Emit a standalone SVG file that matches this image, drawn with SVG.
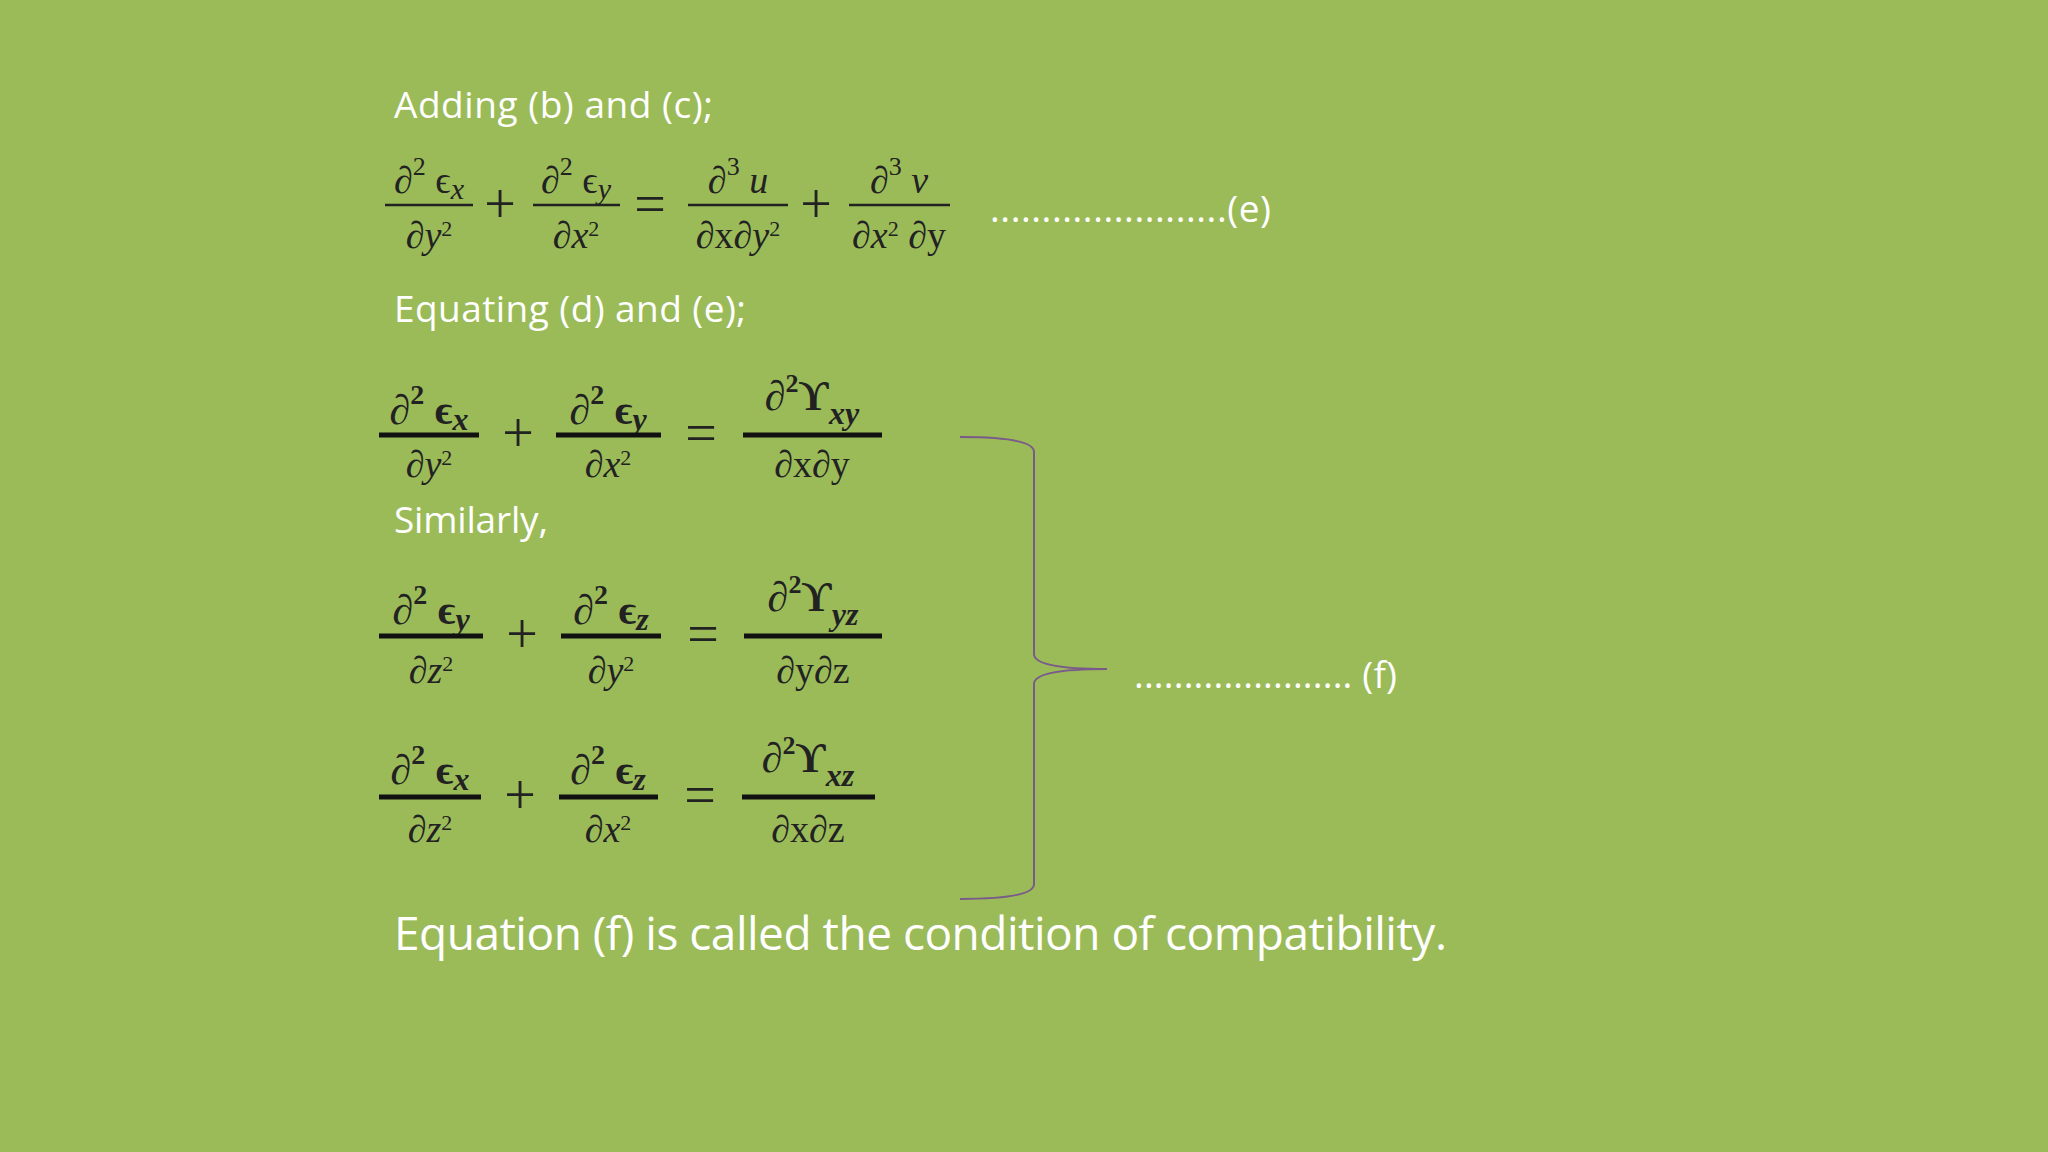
<svg xmlns="http://www.w3.org/2000/svg" width="2048" height="1152" viewBox="0 0 2048 1152">
<style>
.t{font-family:"Open Sans","Liberation Sans",sans-serif;fill:#fff;font-size:37px}
.m{font-family:"Liberation Serif","DejaVu Serif",serif;fill:#222;font-size:38px;text-anchor:middle}
.mb{font-family:"Liberation Serif","DejaVu Serif",serif;fill:#222;font-size:42px;text-anchor:middle;font-weight:bold}
.op{font-family:"Liberation Serif",serif;fill:#222;font-size:56px;text-anchor:middle}
.i{font-style:italic}
.fl{stroke:#222;stroke-width:2.5}
.fb{stroke:#111;stroke-width:5}
</style>
<rect width="2048" height="1152" fill="#9bbb59"/>
<text class="t" x="394" y="118" textLength="319">Adding (b) and (c);</text>
<g id="eq-e">
<text class="m" x="429" y="193">∂<tspan dy="-18" font-size="26">2</tspan><tspan dy="18"> ϵ</tspan><tspan class="i" dy="6" font-size="30">x</tspan></text>
<line class="fl" x1="385" y1="205" x2="473" y2="205"/>
<text class="m" x="429" y="248">∂<tspan class="i">y</tspan><tspan dy="-12" font-size="22">2</tspan></text>
<text class="op" x="500" y="223">+</text>
<text class="m" x="576" y="193">∂<tspan dy="-18" font-size="26">2</tspan><tspan dy="18"> ϵ</tspan><tspan class="i" dy="6" font-size="30">y</tspan></text>
<line class="fl" x1="533" y1="205" x2="620" y2="205"/>
<text class="m" x="576" y="248">∂<tspan class="i">x</tspan><tspan dy="-12" font-size="22">2</tspan></text>
<text class="op" x="650" y="223">=</text>
<text class="m" x="738" y="193">∂<tspan dy="-18" font-size="26">3</tspan><tspan dy="18" class="i"> u</tspan></text>
<line class="fl" x1="688" y1="205" x2="788" y2="205"/>
<text class="m" x="738" y="248">∂x∂<tspan class="i">y</tspan><tspan dy="-12" font-size="22">2</tspan></text>
<text class="op" x="816" y="223">+</text>
<text class="m" x="899" y="193">∂<tspan dy="-18" font-size="26">3</tspan><tspan dy="18" class="i"> v</tspan></text>
<line class="fl" x1="849" y1="205" x2="950" y2="205"/>
<text class="m" x="899" y="248">∂<tspan class="i">x</tspan><tspan dy="-12" font-size="22">2</tspan><tspan dy="12"> ∂y</tspan></text>
</g>
<text class="t" x="990" y="222" textLength="281">.......................(e)</text>
<text class="t" x="394" y="322" textLength="352">Equating (d) and (e);</text>
<g id="eq1">
<text class="mb" x="429" y="424">∂<tspan dy="-20" font-size="28">2</tspan><tspan dy="20"> ϵ</tspan><tspan class="i" dy="6" font-size="32">x</tspan></text>
<line class="fb" x1="379" y1="435" x2="479" y2="435"/>
<text class="m" x="429" y="477">∂<tspan class="i">y</tspan><tspan dy="-12" font-size="22">2</tspan></text>
<text class="op" x="518" y="452">+</text>
<text class="mb" x="608" y="424">∂<tspan dy="-20" font-size="28">2</tspan><tspan dy="20"> ϵ</tspan><tspan class="i" dy="6" font-size="32">y</tspan></text>
<line class="fb" x1="556" y1="435" x2="661" y2="435"/>
<text class="m" x="608" y="477">∂<tspan class="i">x</tspan><tspan dy="-12" font-size="22">2</tspan></text>
<text class="op" x="701" y="452">=</text>
<text class="mb" x="812" y="410">∂<tspan dy="-18" font-size="26">2</tspan><tspan dy="18">ϒ</tspan><tspan class="i" dy="14" font-size="32">xy</tspan></text>
<line class="fb" x1="743" y1="435" x2="882" y2="435"/>
<text class="m" x="812" y="477">∂x∂y</text>
</g>
<text class="t" x="394" y="533" textLength="154">Similarly,</text>
<g id="eq2">
<text class="mb" x="431" y="624">∂<tspan dy="-20" font-size="28">2</tspan><tspan dy="20"> ϵ</tspan><tspan class="i" dy="6" font-size="32">y</tspan></text>
<line class="fb" x1="379" y1="636" x2="483" y2="636"/>
<text class="m" x="431" y="683">∂<tspan class="i">z</tspan><tspan dy="-12" font-size="22">2</tspan></text>
<text class="op" x="522" y="653">+</text>
<text class="mb" x="611" y="624">∂<tspan dy="-20" font-size="28">2</tspan><tspan dy="20"> ϵ</tspan><tspan class="i" dy="6" font-size="32">z</tspan></text>
<line class="fb" x1="561" y1="636" x2="661" y2="636"/>
<text class="m" x="611" y="683">∂<tspan class="i">y</tspan><tspan dy="-12" font-size="22">2</tspan></text>
<text class="op" x="703" y="653">=</text>
<text class="mb" x="813" y="611">∂<tspan dy="-18" font-size="26">2</tspan><tspan dy="18">ϒ</tspan><tspan class="i" dy="14" font-size="32">yz</tspan></text>
<line class="fb" x1="744" y1="636" x2="882" y2="636"/>
<text class="m" x="813" y="683">∂y∂z</text>
</g>
<g id="eq3">
<text class="mb" x="430" y="784">∂<tspan dy="-20" font-size="28">2</tspan><tspan dy="20"> ϵ</tspan><tspan class="i" dy="6" font-size="32">x</tspan></text>
<line class="fb" x1="379" y1="797" x2="481" y2="797"/>
<text class="m" x="430" y="842">∂<tspan class="i">z</tspan><tspan dy="-12" font-size="22">2</tspan></text>
<text class="op" x="520" y="814">+</text>
<text class="mb" x="608" y="784">∂<tspan dy="-20" font-size="28">2</tspan><tspan dy="20"> ϵ</tspan><tspan class="i" dy="6" font-size="32">z</tspan></text>
<line class="fb" x1="559" y1="797" x2="658" y2="797"/>
<text class="m" x="608" y="842">∂<tspan class="i">x</tspan><tspan dy="-12" font-size="22">2</tspan></text>
<text class="op" x="700" y="814">=</text>
<text class="mb" x="808" y="772">∂<tspan dy="-18" font-size="26">2</tspan><tspan dy="18">ϒ</tspan><tspan class="i" dy="14" font-size="32">xz</tspan></text>
<line class="fb" x1="742" y1="797" x2="875" y2="797"/>
<text class="m" x="808" y="842">∂x∂z</text>
</g>
<g id="brace">
<path d="M960,437 Q1034,437 1034,452 L1034,654 Q1034,669 1107,669 Q1034,669 1034,684 L1034,884 Q1034,899 960,899" fill="none" stroke="#7a5a8a" stroke-width="2"/>
</g>
<text class="t" x="1134" y="688" textLength="263">...................... (f)</text>
<text class="t" x="394" y="950" style="font-size:46px" textLength="1053">Equation (f) is called the condition of compatibility.</text>
</svg>
